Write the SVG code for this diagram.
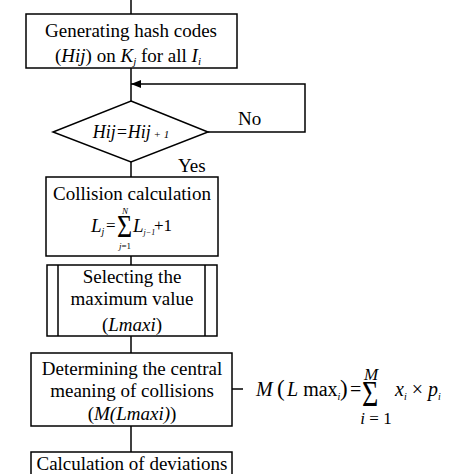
<svg xmlns="http://www.w3.org/2000/svg" width="474" height="474" viewBox="0 0 474 474">
<style>
.b{fill:#fff;stroke:#000;stroke-width:1.5}
.l{fill:none;stroke:#000;stroke-width:1.5}
text{font-family:"Liberation Serif","Times New Roman",serif;fill:#000}
.t{font-size:19px;text-anchor:middle}
.i{font-style:italic}
</style>
<defs>
<marker id="ah" markerWidth="10" markerHeight="8" refX="10" refY="4" orient="auto" markerUnits="userSpaceOnUse">
<path d="M0,0 L10,4 L0,8 z" fill="#000"/>
</marker>
</defs>
<g id="connectors">
<path class="l" d="M131,0 V14"/>
<path class="l" d="M131,68 V101"/>
<path class="l" d="M208,132 H305 V84 H131" marker-end="url(#ah)"/>
<path class="l" d="M131,162 V177"/>
<path class="l" d="M131,256 V265"/>
<path class="l" d="M131,336 V353"/>
<path class="l" d="M131,426 V452"/>
<path class="l" d="M232,389 H243"/>
</g>
<g id="n1">
<rect class="b" x="26" y="14" width="211" height="54"/>
<text class="t" x="131" y="37">Generating hash codes</text>
<text class="t" x="128" y="62">(<tspan class="i">Hij</tspan>) on  <tspan class="i">K<tspan font-size="11" dy="3">j</tspan></tspan><tspan dy="-3"> for all </tspan><tspan class="i">I<tspan font-size="11" dy="3">i</tspan></tspan></text>
</g>
<g id="n2">
<polygon class="b" points="131,101 208,132 131,162 53,132"/>
<text x="131" y="138" text-anchor="middle" font-size="18" class="i">Hij=Hij<tspan font-size="11"> + 1</tspan></text>
</g>
<text x="238" y="125" font-size="19">No</text>
<text x="178" y="172" font-size="19">Yes</text>
<g id="n3">
<rect class="b" x="46" y="177" width="172" height="79"/>
<text class="t" x="132" y="200">Collision calculation</text>
<text x="91" y="232" font-size="19" class="i">L<tspan font-size="10" dy="3">j</tspan></text>
<text x="106" y="231" font-size="17">=</text>
<text transform="translate(117,237) scale(1,1.2)" font-size="26">Σ</text>
<text x="125" y="214" font-size="9" text-anchor="middle" class="i">N</text>
<text x="125" y="249" font-size="9" text-anchor="middle"><tspan class="i">j</tspan>=1</text>
<text x="133" y="232" font-size="19" class="i">L<tspan font-size="8" dy="3">j−1</tspan></text>
<text x="154" y="231" font-size="17">+1</text>
</g>
<g id="n4">
<rect class="b" x="47" y="265" width="170" height="71"/>
<path class="l" d="M58,265 V336 M205,265 V336"/>
<text class="t" x="132" y="283">Selecting the</text>
<text class="t" x="132" y="305">maximum value</text>
<text class="t" x="132" y="331">(<tspan class="i">Lmaxi</tspan>)</text>
</g>
<g id="n5">
<rect class="b" x="31" y="353" width="201" height="73"/>
<text class="t" x="132" y="375">Determining the central</text>
<text class="t" x="132" y="397">meaning of collisions</text>
<text class="t" x="132" y="420">(<tspan class="i">M(Lmaxi)</tspan>)</text>
</g>
<g id="n6">
<rect class="b" x="31" y="452" width="201" height="40"/>
<text class="t" x="132" y="470">Calculation of deviations</text>
</g>
<g id="formula">
<text x="256" y="396" font-size="20"><tspan class="i">M</tspan></text>
<text x="277" y="396" font-size="23">(</text>
<text x="287" y="396" font-size="20"><tspan class="i">L</tspan> max<tspan font-size="10" dy="4" class="i">i</tspan></text>
<text x="340" y="396" font-size="23">)</text>
<text x="350" y="396" font-size="20">=</text>
<text transform="translate(362,406) scale(1,1.3)" font-size="28">Σ</text>
<text x="371" y="380" font-size="17" text-anchor="middle" class="i">M</text>
<text x="376" y="424" font-size="17" text-anchor="middle"><tspan class="i">i</tspan> = 1</text>
<text x="395" y="396" font-size="20"><tspan class="i">x</tspan><tspan font-size="10" dy="4" class="i">i</tspan><tspan dy="-4"> × </tspan><tspan class="i">p</tspan><tspan font-size="10" dy="4" class="i">i</tspan></text>
</g>
</svg>
